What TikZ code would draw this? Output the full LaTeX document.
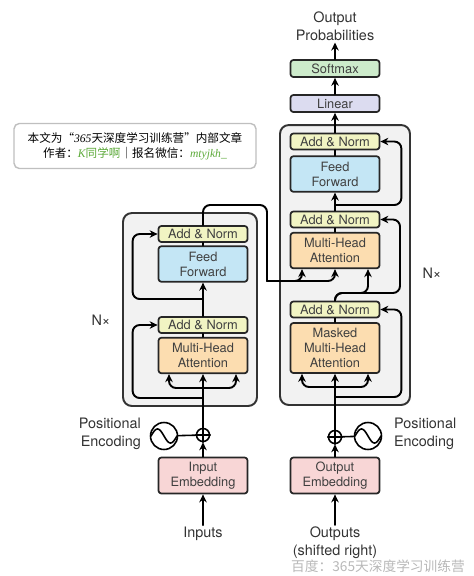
\documentclass[tikz,border=0pt]{standalone}
\usepackage{fontspec}
\setmainfont{TeX Gyre Heros}
\newfontfamily\cjk{Noto Sans CJK SC}
\newfontfamily\bannerit{Liberation Serif}
\usepackage{tikz}
\usepackage{xcolor}
\usetikzlibrary{arrows.meta,calc,positioning}
\definecolor{tfnorm}{HTML}{F1F4C3}
\definecolor{tfff}{HTML}{C4E6F5}
\definecolor{tfattn}{HTML}{FCDDB0}
\definecolor{tflinear}{HTML}{DCDCF0}
\definecolor{tfsoft}{HTML}{CDEBCB}
\definecolor{tfembed}{HTML}{F8D6D6}
\definecolor{tfstack}{HTML}{F2F2F2}
\definecolor{tfgreen}{HTML}{5DAA3A}
\tikzset{
  every picture/.append style={line cap=round,line join=round},
  tf text/.style={font=\fontsize{7.3}{8.6}\selectfont,text=black!75,align=center},
  tf outer/.style={font=\fontsize{8.2}{10.2}\selectfont,text=black!80,align=center,inner sep=1pt},
  tf block/.style={tf text,draw=black!85,line width=1pt,rounded corners=1.6pt,minimum width=1.78cm,inner sep=0pt},
  tf norm/.style={tf block,fill=tfnorm,minimum height=0.32cm},
  tf ff/.style={tf block,fill=tfff,minimum height=0.71cm},
  tf attn/.style={tf block,fill=tfattn,minimum height=0.71cm},
  tf masked/.style={tf block,fill=tfattn,minimum height=1.0cm},
  tf linear/.style={tf block,fill=tflinear,minimum height=0.34cm},
  tf softmax/.style={tf block,fill=tfsoft,minimum height=0.34cm},
  tf embed/.style={tf block,fill=tfembed,minimum height=0.72cm},
  tf stack/.style={draw=black!80,fill=tfstack,line width=1.1pt,rounded corners=5pt,inner sep=0pt},
  tf line/.style={line width=1.1pt,rounded corners=4pt},
  tf arrow/.style={tf line,-{Stealth[length=1.6mm,width=1.5mm]}},
  tf plus/.style={circle,draw,line width=0.9pt,minimum size=0.26cm,inner sep=0pt},
  tf wave/.style={circle,draw,line width=0.9pt,minimum size=0.54cm,inner sep=0pt}
}

\begin{document}
\begin{tikzpicture}[x=0.02cm, y=-0.02cm]
  \useasboundingbox (0,0) rectangle (474,576);
  \node[draw=black!25, line width=0.8pt, rounded corners=3pt, fill=white, minimum width=4.84cm, minimum height=0.9cm, align=center, font=\cjk\fontsize{6.6}{8.6}\selectfont] (banner) at (135,146) {本文为“{\bannerit\itshape 365}天深度学习训练营”内部文章\\作者：\textcolor{tfgreen}{{\bannerit\itshape K}同学啊}｜报名微信：\textcolor{tfgreen}{\bannerit\itshape mtyjkh\_}};

  \node[tf stack, minimum width=2.68cm, minimum height=3.86cm] (encStack) at (190,309.5) {};
  \node[tf stack, minimum width=2.6cm, minimum height=5.6cm] (decStack) at (345,265) {};

  \node[tf norm] (encAN2) at (203,234) {Add \& Norm};
  \node[tf ff] (encFF) at (203,264) {Feed\\Forward};
  \node[tf norm] (encAN1) at (203,325) {Add \& Norm};
  \node[tf attn] (encMHA) at (203,355.5) {Multi-Head\\Attention};
  \node[tf outer] (encNx) at (101,320) {N×};

  \node[tf softmax] (softmax) at (335,68.5) {Softmax};
  \node[tf linear] (linear) at (335,103.5) {Linear};
  \node[tf outer] (outProb) at (335,26) {Output\\Probabilities};
  \node[tf norm] (decAN3) at (335,141.5) {Add \& Norm};
  \node[tf ff] (decFF) at (335,174) {Feed\\Forward};
  \node[tf norm] (decAN2) at (335,219.5) {Add \& Norm};
  \node[tf attn] (decMHA) at (335,250.5) {Multi-Head\\Attention};
  \node[tf norm] (decAN1) at (335,309.5) {Add \& Norm};
  \node[tf masked] (decMMHA) at (335,348) {Masked\\Multi-Head\\Attention};
  \node[tf outer] (decNx) at (432,273) {N×};

  \node[tf plus] (encPlus) at (203,435) {};
  \node[tf wave] (encWave) at (164,436) {};
  \node[tf outer, align=right, anchor=east] (encPE) at (143,434) {Positional\\Encoding};
  \node[tf embed] (encEmb) at (203,475.5) {Input\\Embedding};
  \node[tf outer] (inputs) at (203,534) {Inputs};

  \node[tf plus] (decPlus) at (335,437) {};
  \node[tf wave] (decWave) at (368,436) {};
  \node[tf outer, align=left, anchor=west] (decPE) at (392,434) {Positional\\Encoding};
  \node[tf embed] (decEmb) at (335,475.5) {Output\\Embedding};
  \node[tf outer] (outputs) at (335,543) {Outputs\\(shifted right)};

  \node[font=\cjk\fontsize{7.8}{8}\selectfont, text=black!28, inner sep=0pt] (mark) at (378,566) {百度：365天深度学习训练营};

  \coordinate (encSplit) at (203,388);
  \coordinate (encRes1) at (203,398);
  \coordinate (encRes2) at (203,299);
  \coordinate (encTurn) at (267,205);
  \coordinate (encKV) at (267,281);
  \coordinate (decSplit) at (335,387);
  \coordinate (decRes1) at (335,397);
  \coordinate (decQup) at (368,293);
  \coordinate (decQres) at (400,293);
  \coordinate (decRes2) at (335,205);

  \draw[tf arrow] (inputs) -- (encEmb);
  \draw[tf arrow] (encEmb) -- (encPlus);
  \draw[line width=0.9pt] (encWave) -- (encPlus);
  \draw[line width=0.8pt] (encPlus.north) -- (encPlus.south) (encPlus.west) -- (encPlus.east);
  \draw[line width=0.9pt, shift={(encWave.center)}] plot[domain=-13:13, samples=40, smooth] (\x,{7*sin(\x*180/13)});
  \draw[tf arrow] (encPlus) -- (encMHA);
  \draw[tf arrow] (encSplit) -| ($(encMHA.south)+(-34,0)$);
  \draw[tf arrow] (encSplit) -| ($(encMHA.south)+(33,0)$);
  \draw[tf arrow] (encRes1) -| ($(encAN1.west)+(-25,0)$) -- (encAN1.west);
  \draw[tf line] (encMHA) -- (encAN1);
  \draw[tf arrow] (encAN1) -- (encFF);
  \draw[tf arrow] (encRes2) -| ($(encAN2.west)+(-25,0)$) -- (encAN2.west);
  \draw[tf line] (encFF) -- (encAN2);
  \draw[tf line] (encAN2.north) |- (encTurn) -- (encKV);
  \draw[tf arrow] (encKV) -| ($(decMHA.south)+(-33,0)$);
  \draw[tf arrow] (encKV) -| (decMHA.south);

  \draw[tf arrow] (outputs) -- (decEmb);
  \draw[tf arrow] (decEmb) -- (decPlus);
  \draw[line width=0.9pt] (decWave) -- (decPlus);
  \draw[line width=0.8pt] (decPlus.north) -- (decPlus.south) (decPlus.west) -- (decPlus.east);
  \draw[line width=0.9pt, shift={(decWave.center)}] plot[domain=-13:13, samples=40, smooth] (\x,{7*sin(\x*180/13)});
  \draw[tf arrow] (decPlus) -- (decMMHA);
  \draw[tf arrow] (decSplit) -| ($(decMMHA.south)+(-33,0)$);
  \draw[tf arrow] (decSplit) -| ($(decMMHA.south)+(33,0)$);
  \draw[tf arrow] (decRes1) -| ($(decAN1.east)+(21,0)$) -- (decAN1.east);
  \draw[tf line] (decMMHA) -- (decAN1);
  \draw[tf arrow] (decAN1.north) |- (decQup) -- ($(decMHA.south)+(33,0)$);
  \draw[tf arrow] (decAN1.north) |- (decQres) |- (decAN2.east);
  \draw[tf line] (decMHA) -- (decAN2);
  \draw[tf arrow] (decAN2) -- (decFF);
  \draw[tf arrow] (decRes2) -| ($(decAN3.east)+(21,0)$) -- (decAN3.east);
  \draw[tf line] (decFF) -- (decAN3);
  \draw[tf arrow] (decAN3) -- (linear);
  \draw[tf arrow] (linear) -- (softmax);
  \draw[tf arrow] (softmax) -- (outProb);
\end{tikzpicture}
\end{document}
